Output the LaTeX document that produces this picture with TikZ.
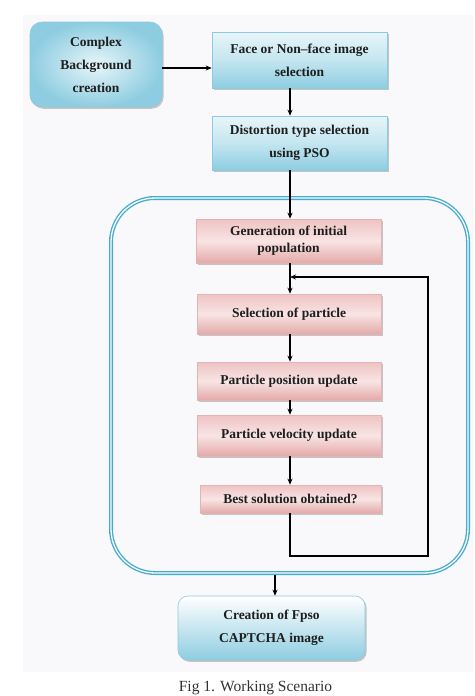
\documentclass[tikz,border=0pt]{standalone}
\usepackage{fontspec}
\setmainfont{Liberation Serif}
\usetikzlibrary{arrows.meta,shadows}
\definecolor{bgpage}{HTML}{F9F9FB}
\definecolor{bluedark}{HTML}{8ECDE1}
\definecolor{bluemid}{HTML}{C4E6F0}
\definecolor{bluelight}{HTML}{E8F5F9}
\definecolor{blueedge}{HTML}{8CCADD}
\definecolor{pinkdark}{HTML}{E4A9A9}
\definecolor{pinkmid}{HTML}{F8E4E4}
\definecolor{pinktop}{HTML}{EFC3C3}
\definecolor{pinkedge}{HTML}{E2B4B4}
\definecolor{frame}{HTML}{45ADCC}
\definecolor{txt}{HTML}{1E1E1E}
\tikzset{
  boxtext/.style={font=\fontsize{13.5}{23}\selectfont\bfseries, text=txt, align=center, inner sep=0pt},
  shade/.style={drop shadow={shadow xshift=1.6pt, shadow yshift=-1.8pt, fill=black!40, opacity=.55}},
  bluebox/.style={boxtext, draw=blueedge, line width=0.6pt, shade,
    top color=bluelight, bottom color=bluedark, middle color=bluemid},
  bluerad/.style={boxtext, draw=blueedge, line width=0.6pt, shade,
    inner color=bluelight, outer color=bluedark},
  pinkbox/.style={boxtext, font=\fontsize{13.5}{17}\selectfont\bfseries, draw=pinkedge, line width=0.6pt, shade,
    top color=pinktop, bottom color=pinkdark, middle color=pinkmid},
  arr/.style={line width=1.1pt, draw=black, -{Stealth[length=6pt,width=5pt]}},
}
\begin{document}
\begin{tikzpicture}[x=1pt,y=-1pt]
\useasboundingbox (0,0) rectangle (474,696);
\fill[white] (0,0) rectangle (474,696);
\fill[bgpage] (23,15) rectangle (474,672);

% big loop frame (double line)
\draw[frame, line width=4pt, rounded corners=44pt] (111,198) rectangle (468,573);
\draw[white, line width=1.3pt, rounded corners=44pt] (111,198) rectangle (468,573);
\coordinate (bigS) at (275,575);

% blue boxes
\node[bluerad, rounded corners=12pt, minimum width=132pt, minimum height=85pt] (cbg) at (96,64.5) {Complex\\Background\\creation};
\node[bluebox, minimum width=175pt, minimum height=56pt] (face) at (299.5,60) {Face or Non--face image\\selection};
\node[bluebox, minimum width=175pt, minimum height=54pt] (dist) at (299.5,143) {Distortion type selection\\using PSO};

% pink boxes
\node[pinkbox, minimum width=185pt, minimum height=44pt] (gen) at (288.5,241) {Generation of initial\\population};
\node[pinkbox, minimum width=184pt, minimum height=40pt] (sel) at (289,314) {Selection of particle};
\node[pinkbox, minimum width=184pt, minimum height=38pt] (pos) at (289,381) {Particle position update};
\node[pinkbox, minimum width=184pt, minimum height=41pt] (vel) at (289,435.5) {Particle velocity update};
\node[pinkbox, minimum width=181pt, minimum height=28pt] (best) at (290.5,499) {Best solution obtained?};

% final box
\node[bluebox, rounded corners=10pt, top color=white, middle color=bluelight, bottom color=bluedark, minimum width=187pt, minimum height=64pt] (cre) at (271.5,628) {Creation of Fpso\\CAPTCHA image};

% connectors
\draw[arr] (cbg.east |- 0,68) -- (face.west |- 0,68);
\draw[arr] (face.south -| 290,0) -- (dist.north -| 290,0);
\draw[arr] (dist.south -| 290,0) -- (gen.north -| 290,0);
\draw[arr] (gen.south -| 290,0) -- (sel.north -| 290,0);
\draw[arr] (sel.south -| 290,0) -- (pos.north -| 290,0);
\draw[arr] (pos.south -| 290,0) -- (vel.north -| 290,0);
\draw[arr] (vel.south -| 290,0) -- (best.north -| 290,0);
\coordinate (l1) at (290,556);
\coordinate (l2) at (428,556);
\coordinate (l3) at (428,277);
\coordinate (l4) at (290,277);
\draw[arr] (best.south -| 290,0) -- (l1) -- (l2) -- (l3) -- (l4);
\draw[arr] (bigS) -- (cre.north -| bigS);

% caption
\node[anchor=base, font=\fontsize{15.5}{18}\selectfont, text=black!80, inner sep=0pt] (cap) at (255.5,691) {Fig 1. Working Scenario};
\end{tikzpicture}
\end{document}
